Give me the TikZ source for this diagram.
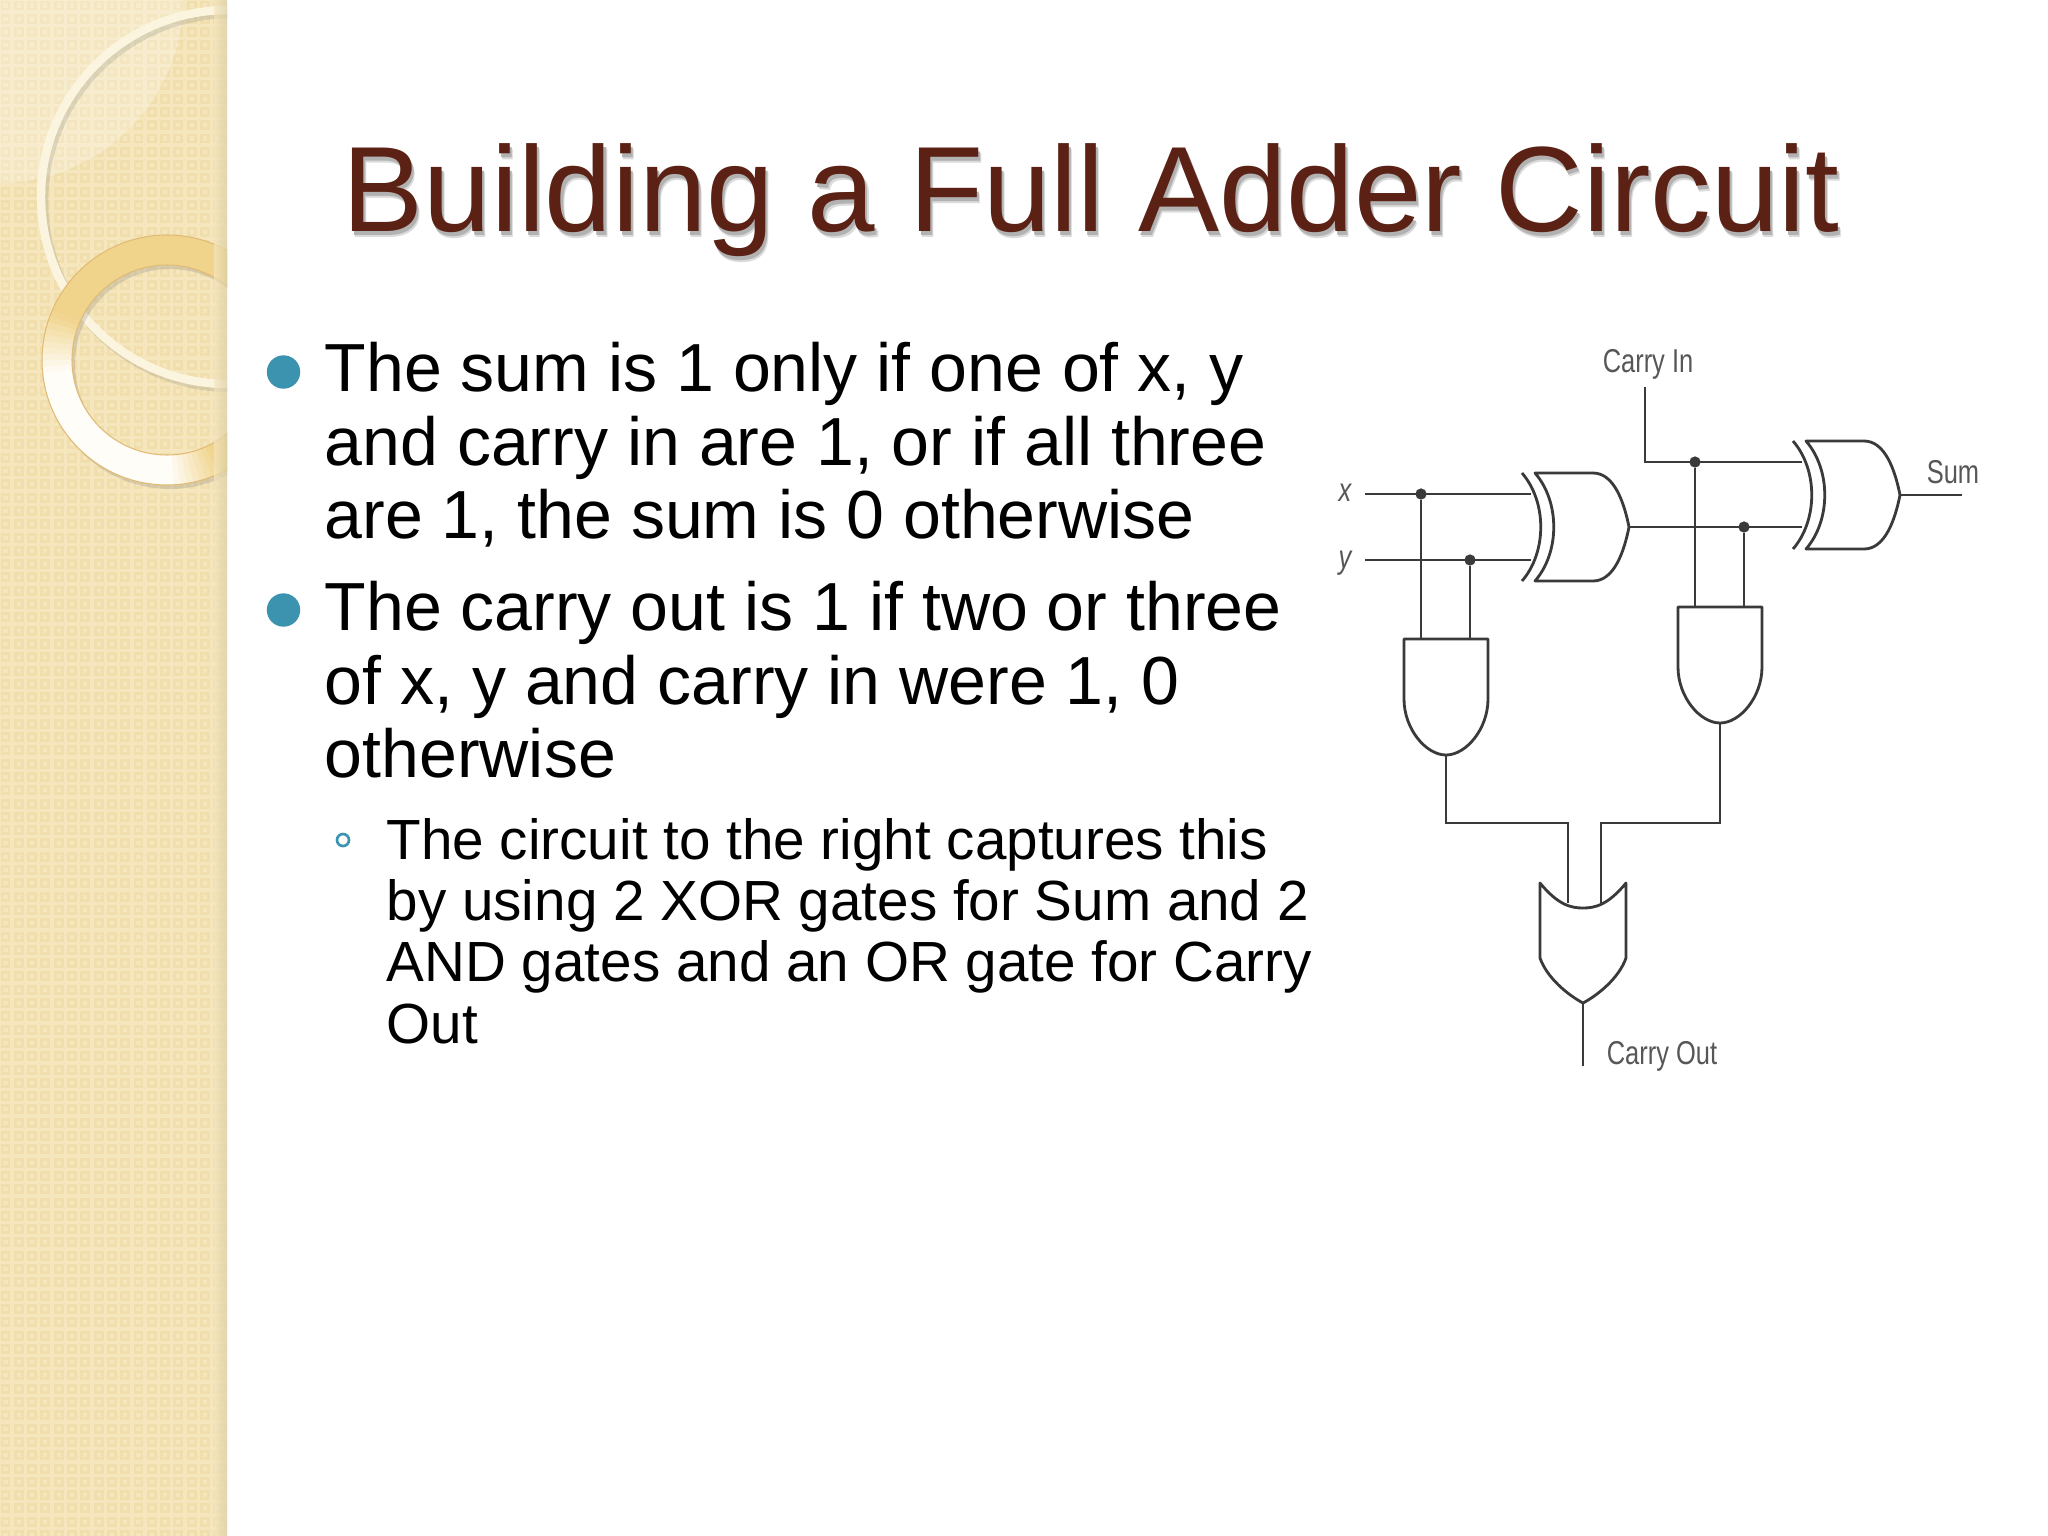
\documentclass[tikz,border=0pt]{standalone}
\usepackage{fontspec}
\setmainfont{Liberation Sans}
\definecolor{sidebase}{HTML}{F6E6BE}
\definecolor{sidesq}{HTML}{F0DEAC}
\definecolor{sideedge}{HTML}{D9CDA5}
\definecolor{ringgold}{HTML}{F0D48C}
\definecolor{ringwhite}{HTML}{FFFDF8}
\definecolor{thinring}{HTML}{FBF5DF}
\definecolor{titlered}{HTML}{5A2114}
\definecolor{bullteal}{HTML}{3B93AF}
\definecolor{wirecol}{HTML}{3A3A3A}
\newcommand{\titlestr}{Building a Full Adder Circuit}
\tikzset{
	wire/.style={draw=wirecol,line width=0.8pt},
	gate/.style={draw=wirecol,line width=0.8pt,line join=round},
	wiredot/.style={circle,fill=wirecol,inner sep=0pt,minimum size=3.2pt},
	cctlabel/.style={text=wirecol!85,inner sep=0pt,font=\fontsize{9.4}{11}\selectfont},
	bodytext/.style={align=left,anchor=base west,inner sep=0pt,font=\fontsize{19.35}{20.9}\selectfont},
	subtext/.style={align=left,anchor=base west,inner sep=0pt,font=\fontsize{16.1}{17.36}\selectfont},
	titletext/.style={anchor=base west,inner sep=0pt,font=\fontsize{34.5}{40}\selectfont},
	xorgate/.pic={
		\draw[gate] (-107,-54) .. controls (-82,-25) and (-82,25) .. (-107,54);
		\draw[gate] (-94,-54) .. controls (-69,-25) and (-69,25) .. (-94,54) -- (-36,54)
			.. controls (-15,54) and (-5,25) .. (0,0) .. controls (-5,-25) and (-15,-54) .. (-36,-54) -- cycle;
		\coordinate (-ina) at (-98,-33);
		\coordinate (-inb) at (-98,33);
		\coordinate (-out) at (0,0);
	},
	andgate/.pic={
		\draw[gate] (-42,0) -- (42,0) -- (42,60) .. controls (42,90) and (20,116) .. (0,116)
			.. controls (-20,116) and (-42,90) .. (-42,60) -- cycle;
		\coordinate (-ina) at (-25,0);
		\coordinate (-inb) at (24,0);
		\coordinate (-out) at (0,116);
	},
	orgate/.pic={
		\draw[gate] (-43,0) .. controls (-25,22) and (-12,25) .. (0,25) .. controls (12,25) and (25,22) .. (43,0)
			-- (43,75) .. controls (36,95) and (15,112) .. (0,120) .. controls (-15,112) and (-36,95) .. (-43,75) -- cycle;
		\coordinate (-ina) at (-15,20);
		\coordinate (-inb) at (18,20);
		\coordinate (-out) at (0,120);
	}
}
\begin{document}
\begin{tikzpicture}[x=0.01cm,y=-0.01cm]
	\useasboundingbox (0,0) rectangle (2048,1536);
	\fill[white] (0,0) rectangle (2048,1536);
	% side band
	\begin{scope}
		\clip (0,0) rectangle (227,1536);
		\fill[sidebase] (0,0) rectangle (227,1536);
		\foreach \i in {0,...,17}
			\foreach \j in {0,...,115}
				\draw[sidesq,line width=0.85pt] (\i*13.3+2,\j*13.3+2) rectangle ++(7,7);
		\fill[white,opacity=0.25] (0,0) -- (183,0) .. controls (183,100) and (100,183) .. (0,183) -- cycle;
		\draw[gray,opacity=0.22,line width=2.4pt] (231,201) circle (187);
		\draw[thinring,line width=2.4pt] (228,197) circle (187);
		% gold ring
		\draw[gray,opacity=0.25,line width=8.5pt] (170,364) circle (110);
		\foreach \ang in {30,33,...,330}{
			\pgfmathsetmacro{\mixval}{\ang<155 ? 100 : (\ang<185 ? 100-(\ang-155)/30*100 : (\ang<270 ? 0 : (\ang<295 ? (\ang-270)/25*100 : 100)))}
			\pgfmathsetmacro{\xa}{167+110*cos(\ang)}
			\pgfmathsetmacro{\ya}{360-110*sin(\ang)}
			\pgfmathsetmacro{\xb}{167+110*cos(\ang+3.6)}
			\pgfmathsetmacro{\yb}{360-110*sin(\ang+3.6)}
			\draw[color=ringgold!\mixval!ringwhite,line width=8.5pt] (\xa,\ya) -- (\xb,\yb);
		}
		\draw[color=ringgold!70!brown,line width=0.3pt] (167,360) circle (125) (167,360) circle (95);
		\shade[left color=sidebase,right color=sideedge,opacity=0.7] (214,0) rectangle (227,1536);
	\end{scope}
	% title, its soft shadow set in the same node
	\node[titletext,text=titlered] (title) at (342,231) {\rlap{\kern0.9pt\raisebox{-1.9pt}{\color{gray!28}\titlestr}}\rlap{\kern0.6pt\raisebox{-1.2pt}{\color{gray!60}\titlestr}}\titlestr};
	% text
	\fill[bullteal] (283.5,372) circle (16.7);
	\fill[bullteal] (283.5,610) circle (16.7);
	\draw[bullteal,line width=0.75pt] (343,840) circle (6);
	\node[bodytext] (sumtext) at (324,538.5) {The sum is 1 only if one of x, y\\and carry in are 1, or if all three\\are 1, the sum is 0 otherwise};
	\node[bodytext] (carrytext) at (324,777.5) {The carry out is 1 if two or three\\of x, y and carry in were 1, 0\\otherwise};
	\node[subtext] (circtext) at (386,1043) {The circuit to the right captures this\\by using 2 XOR gates for Sum and 2\\AND gates and an OR gate for Carry\\Out};
	% gates
	\pic (xorA) at (1629,527) {xorgate};
	\pic (xorB) at (1900,495) {xorgate};
	\pic (andA) at (1446,639) {andgate};
	\pic (andB) at (1720,607) {andgate};
	\pic (orA) at (1583,883) {orgate};
	% free ends
	\coordinate (xin) at (1365,494);
	\coordinate (yin) at (1365,560);
	\coordinate (cin) at (1645,387);
	\coordinate (sout) at (1962,495);
	\coordinate (cout) at (1583,1066);
	\coordinate (bus) at (1583,823);
	% junctions
	\node[wiredot] (xdot) at (xin -| andA-ina) {};
	\node[wiredot] (ydot) at (yin -| andA-inb) {};
	\node[wiredot] (cdot) at (xorB-ina -| andB-ina) {};
	\node[wiredot] (hdot) at (xorA-out -| andB-inb) {};
	% wires
	\draw[wire] (xin) -- (xorA-ina);
	\draw[wire] (yin) -- (xorA-inb);
	\draw[wire] (xdot) -- (andA-ina);
	\draw[wire] (ydot) -- (andA-inb);
	\draw[wire] (cin) |- (xorB-ina);
	\draw[wire] (xorA-out) -- (xorA-out -| xorB-inb);
	\draw[wire] (cdot) -- (andB-ina);
	\draw[wire] (hdot) -- (andB-inb);
	\draw[wire] (xorB-out) -- (sout);
	\draw[wire] (andA-out) -- (andA-out |- bus) -- (orA-ina |- bus) -- (orA-ina);
	\draw[wire] (andB-out) -- (andB-out |- bus) -- (orA-inb |- bus) -- (orA-inb);
	\draw[wire] (orA-out) -- (cout);
	% labels
	\node[cctlabel,xscale=0.77] (cinlabel) at (1648,364) {Carry In};
	\node[cctlabel,xscale=0.77] (sumlabel) at (1953,472) {Sum};
	\node[cctlabel,xscale=0.77] (coutlabel) at (1662,1056) {Carry Out};
	\node[cctlabel,xscale=0.77] (xlabel) at (1345,493) {\itshape x};
	\node[cctlabel,xscale=0.77] (ylabel) at (1345,563) {\itshape y};
\end{tikzpicture}
\end{document}
